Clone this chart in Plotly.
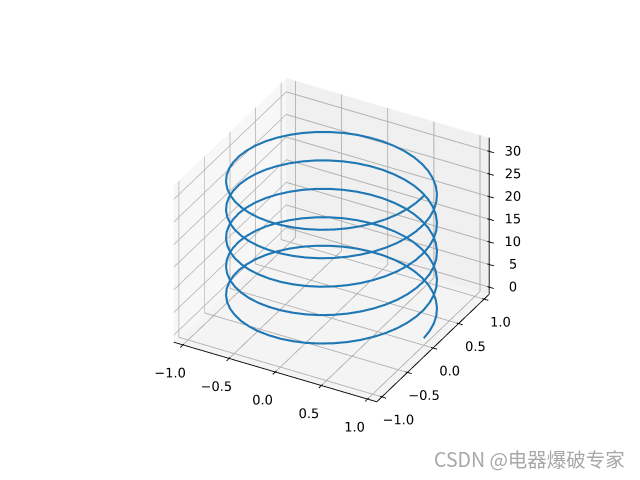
import plotly.graph_objects as go

x_turn = [1,.991,.966,.924,.866,.793,.707,.609,.5,.383,.259,.131,0,-.131,-.259,-.383,-.5,-.609,-.707,-.793,-.866,-.924,-.966,-.991,
          -1,-.991,-.966,-.924,-.866,-.793,-.707,-.609,-.5,-.383,-.259,-.131,0,.131,.259,.383,.5,.609,.707,.793,.866,.924,.966,.991]
y_turn = [0,.131,.259,.383,.5,.609,.707,.793,.866,.924,.966,.991,1,.991,.966,.924,.866,.793,.707,.609,.5,.383,.259,.131,
          0,-.131,-.259,-.383,-.5,-.609,-.707,-.793,-.866,-.924,-.966,-.991,-1,-.991,-.966,-.924,-.866,-.793,-.707,-.609,-.5,-.383,-.259,-.131]
x_values = x_turn * 5 + [1]
y_values = y_turn * 5 + [0]
z_values = [0,.13,.26,.39,.52,.65,.79,.92,1.05,1.18,1.31,1.44,1.57,1.70,1.83,1.96,2.09,2.23,2.36,2.49,2.62,2.75,2.88,3.01,
            3.14,3.27,3.40,3.53,3.67,3.80,3.93,4.06,4.19,4.32,4.45,4.58,4.71,4.84,4.97,5.11,5.24,5.37,5.50,5.63,5.76,5.89,6.02,6.15,
            6.28,6.41,6.54,6.68,6.81,6.94,7.07,7.20,7.33,7.46,7.59,7.72,7.85,7.98,8.11,8.25,8.38,8.51,8.64,8.77,8.90,9.03,9.16,9.29,
            9.42,9.55,9.69,9.82,9.95,10.08,10.21,10.34,10.47,10.60,10.73,10.86,11.00,11.13,11.26,11.39,11.52,11.65,11.78,11.91,12.04,12.17,12.30,12.44,
            12.57,12.70,12.83,12.96,13.09,13.22,13.35,13.48,13.61,13.74,13.88,14.01,14.14,14.27,14.40,14.53,14.66,14.79,14.92,15.05,15.18,15.32,15.45,15.58,
            15.71,15.84,15.97,16.10,16.23,16.36,16.49,16.62,16.76,16.89,17.02,17.15,17.28,17.41,17.54,17.67,17.80,17.93,18.06,18.20,18.33,18.46,18.59,18.72,
            18.85,18.98,19.11,19.24,19.37,19.50,19.63,19.76,19.90,20.03,20.16,20.29,20.42,20.55,20.68,20.81,20.94,21.08,21.21,21.34,21.47,21.60,21.73,21.86,
            21.99,22.12,22.25,22.38,22.51,22.65,22.78,22.91,23.04,23.17,23.30,23.43,23.56,23.69,23.82,23.95,24.09,24.22,24.35,24.48,24.61,24.74,24.87,25.00,
            25.13,25.26,25.39,25.53,25.66,25.79,25.92,26.05,26.18,26.31,26.44,26.57,26.70,26.83,26.97,27.10,27.23,27.36,27.49,27.62,27.75,27.88,28.01,28.14,
            28.27,28.41,28.54,28.67,28.80,28.93,29.06,29.19,29.32,29.45,29.58,29.71,29.85,29.98,30.11,30.24,30.37,30.50,30.63,30.76,30.89,31.02,31.15,31.29,
            31.42]
xy_ticks = [-1.0, -0.5, 0.0, 0.5, 1.0]
xy_labels = ["−1.0", "−0.5", "0.0", "0.5", "1.0"]
z_ticks = [0, 5, 10, 15, 20, 25, 30]
z_labels = ["0", "5", "10", "15", "20", "25", "30"]
watermark = "CSDN @电器爆破专家"

XY = 1.1
ZLO, ZHI = -1.57, 33.0
ZMID, ZHALF = (ZLO + ZHI) / 2, (ZHI - ZLO) / 2
OVER = 1.5
BOX = 0.975
ASPECT_Z = 0.775
DOMAIN = dict(x=[0.036, 1.0], y=[0.004, 0.996])
CAMERA = dict(eye=dict(x=0.837, y=-1.511, z=1.079), center=dict(x=0, y=0, z=0), up=dict(x=0, y=0, z=1),
              projection=dict(type="orthographic"))
TICK_FONT = dict(family="DejaVu Sans", size=13, color="#000000")


def pane(rng, ticks, bg):
    return dict(
        range=rng, autorange=False, tickmode="array", tickvals=ticks,
        title=dict(text=""), showbackground=True, backgroundcolor=bg,
        gridcolor="#b0b0b0", gridwidth=2, zeroline=False, showline=False,
        ticks="", showticklabels=False, showspikes=False,
    )


def hidden(rng):
    return dict(range=rng, autorange=False, visible=False, showspikes=False)


fig = go.Figure()
fig.add_trace(go.Scatter3d(
    x=x_values, y=y_values, z=z_values, mode="lines",
    line=dict(color="#1f77b4", width=4.2), showlegend=False, hoverinfo="skip",
))

# Axis lines, ticks and tick labels sit in an overlay scene with the same camera
ax = [-XY, XY, None, XY, XY, None, XY, XY, None]
ay = [-XY, -XY, None, -XY, XY, None, XY, XY, None]
az = [ZLO, ZLO, None, ZLO, ZLO, None, ZLO, ZHI, None]
for t in xy_ticks:
    ax += [t, t, None, XY - 0.02, XY + 0.045, None]
    ay += [-XY + 0.02, -XY - 0.05, None, t, t, None]
    az += [ZLO, ZLO, None, ZLO, ZLO, None]
for z in z_ticks:
    ax += [XY - 0.02, XY + 0.05, None]
    ay += [XY, XY, None]
    az += [z, z, None]
fig.add_trace(go.Scatter3d(
    x=ax, y=ay, z=az, mode="lines", scene="scene2",
    line=dict(color="#000000", width=1.8), showlegend=False, hoverinfo="skip",
))
fig.add_trace(go.Scatter3d(
    x=xy_ticks, y=[-XY - 0.25] * 5, z=[ZLO - 3.4] * 5, text=xy_labels,
    mode="text", textposition="middle center", scene="scene2", textfont=TICK_FONT,
    showlegend=False, hoverinfo="skip",
))
fig.add_trace(go.Scatter3d(
    x=[XY + 0.18] * 5, y=xy_ticks, z=[ZLO - 3.9] * 5, text=xy_labels,
    mode="text", textposition="middle center", scene="scene2", textfont=TICK_FONT,
    showlegend=False, hoverinfo="skip",
))
fig.add_trace(go.Scatter3d(
    x=[XY + 0.19] * 7, y=[XY + 0.12] * 7, z=z_ticks, text=z_labels,
    mode="text", textposition="middle center", scene="scene2", textfont=TICK_FONT,
    showlegend=False, hoverinfo="skip",
))

fig.update_layout(
    width=640, height=480, autosize=False,
    paper_bgcolor="#ffffff",
    margin=dict(l=0, r=0, t=0, b=0),
    showlegend=False,
    scene=dict(
        domain=DOMAIN,
        xaxis=pane([-XY, XY], xy_ticks, "#f7f7f7"),
        yaxis=pane([-XY, XY], xy_ticks, "#f0f0f0"),
        zaxis=pane([ZLO, ZHI], z_ticks, "#f4f4f4"),
        aspectmode="manual", aspectratio=dict(x=BOX, y=BOX, z=ASPECT_Z),
        camera=CAMERA,
    ),
    scene2=dict(
        domain=DOMAIN,
        bgcolor="rgba(0,0,0,0)",
        xaxis=hidden([-XY * OVER, XY * OVER]),
        yaxis=hidden([-XY * OVER, XY * OVER]),
        zaxis=hidden([ZMID - ZHALF * OVER, ZMID + ZHALF * OVER]),
        aspectmode="manual", aspectratio=dict(x=BOX * OVER, y=BOX * OVER, z=ASPECT_Z * OVER),
        camera=CAMERA,
    ),
    annotations=[dict(
        text=watermark, x=0.828, y=0.045, xref="paper", yref="paper", xanchor="center", yanchor="middle",
        showarrow=False, font=dict(family="Noto Sans CJK SC", size=19.5, color="#a8a8a8"),
    )],
)
fig.write_html("out.html", post_script="document.body.style.margin='0';", config=dict(displayModeBar=False))
